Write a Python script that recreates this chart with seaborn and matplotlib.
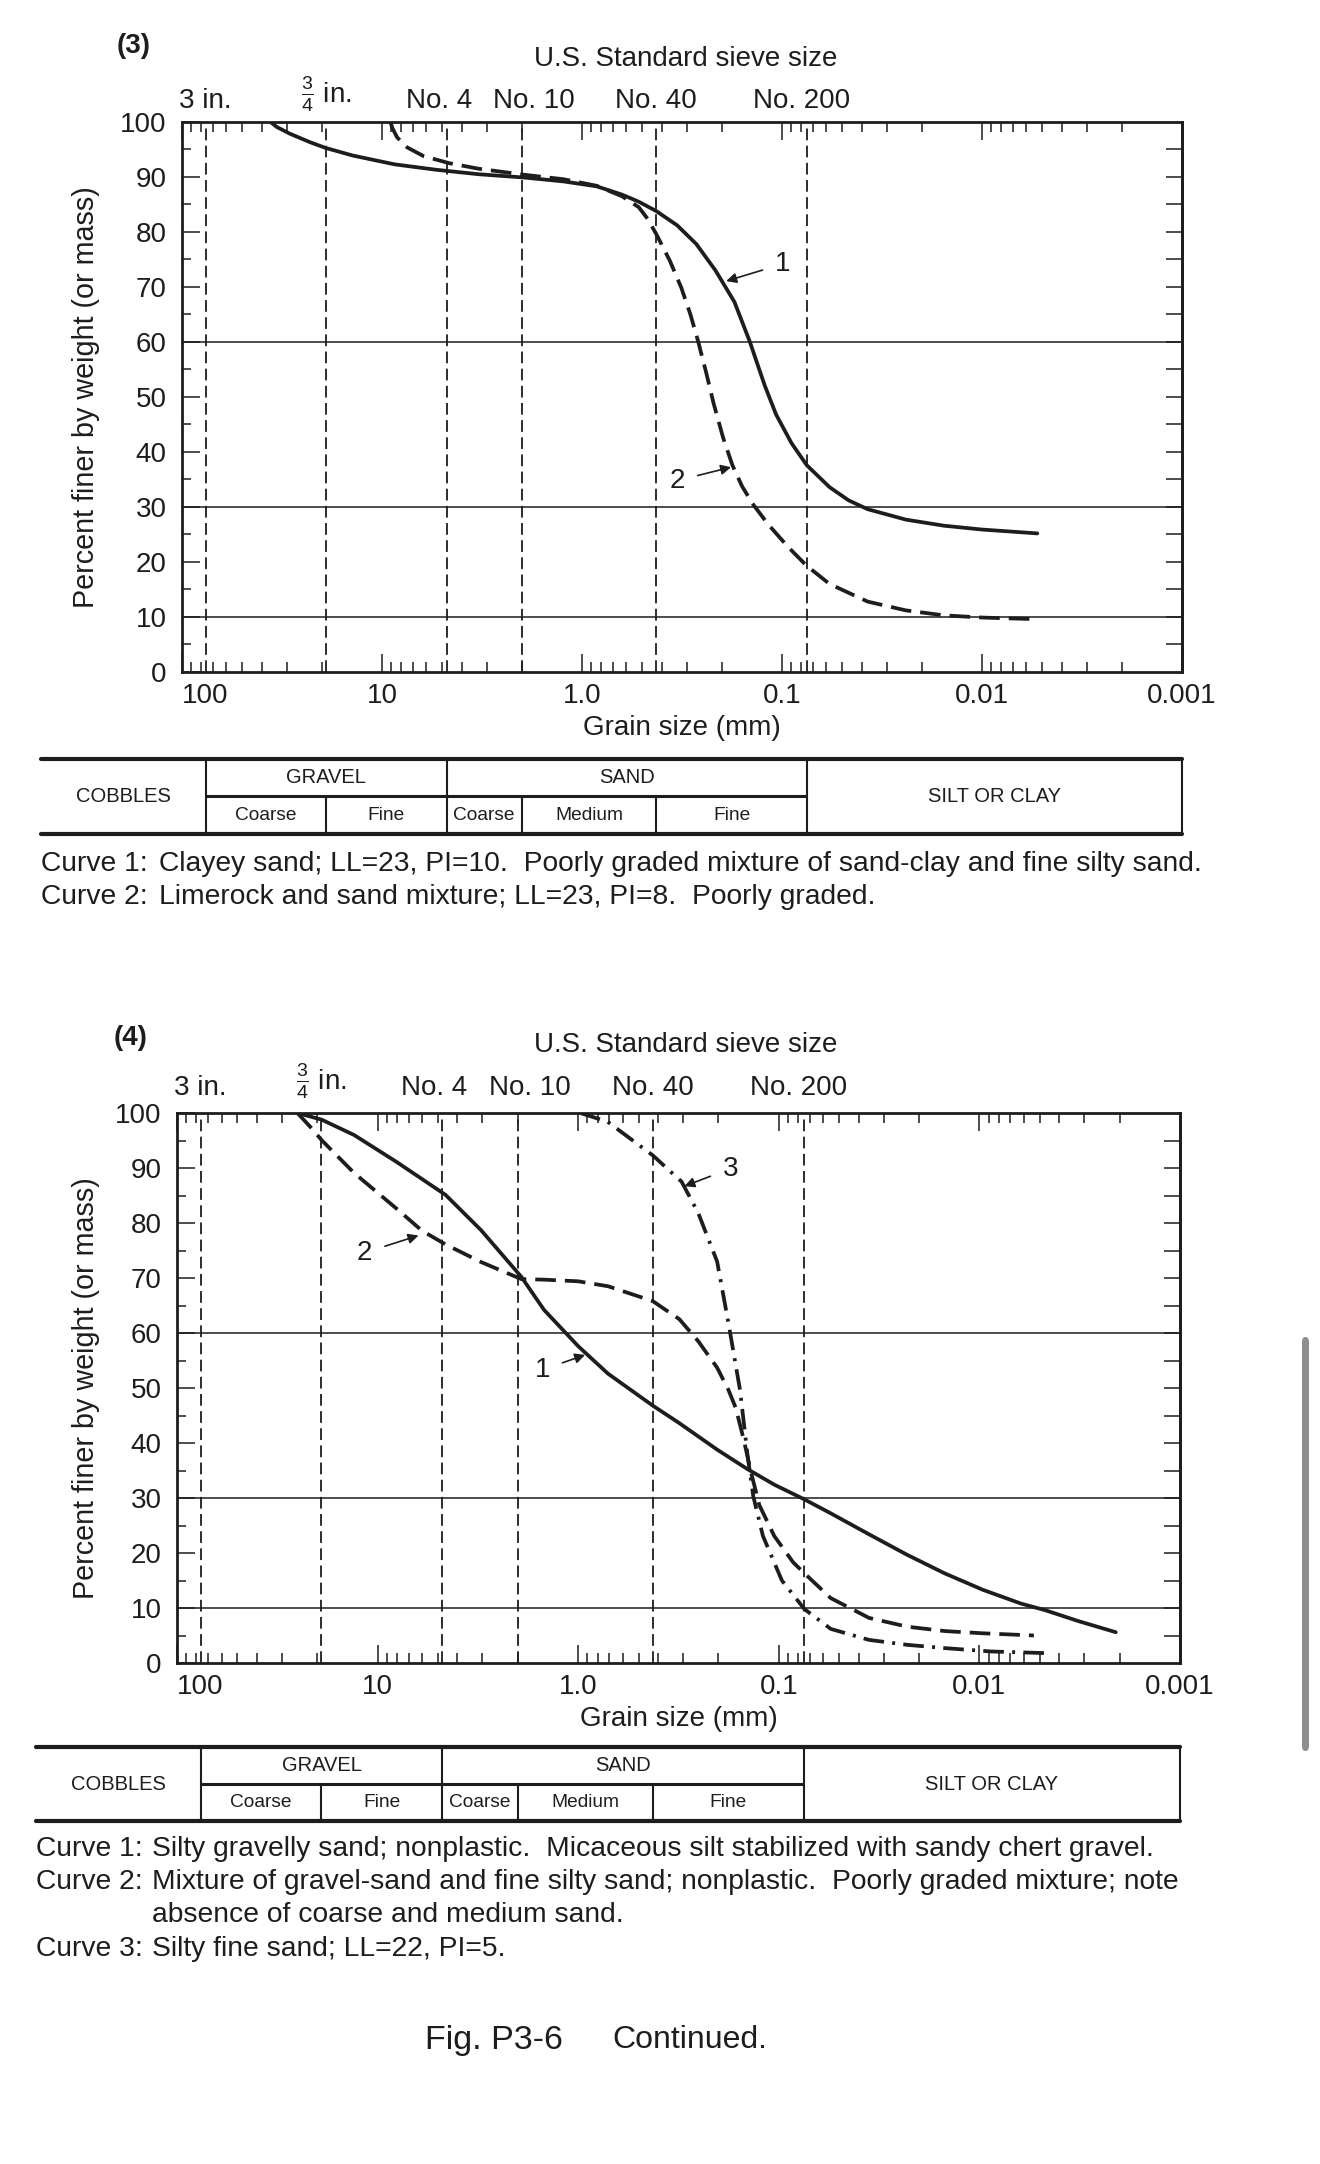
import numpy as np
import matplotlib
matplotlib.use("Agg")
import matplotlib.pyplot as plt
from matplotlib.ticker import FixedLocator, FixedFormatter, LogLocator, NullFormatter
from matplotlib.patches import FancyBboxPatch
import seaborn as sns

# ---------------- data ----------------
# sieve openings (mm) and the names printed above the charts
sieve_mm = [76.2, 19.05, 4.75, 2.0, 0.425, 0.075]
sieve_names = ["3 in.", r"$\frac{3}{4}$ in.", "No. 4", "No. 10", "No. 40", "No. 200"]

x_ticks = [100, 10, 1, 0.1, 0.01, 0.001]
x_ticklabels = ["100", "10", "1.0", "0.1", "0.01", "0.001"]
y_ticks = [0, 10, 20, 30, 40, 50, 60, 70, 80, 90, 100]
grid_pct = [10, 30, 60]

# chart (3)
p3_c1_mm = [36.1, 33.6, 29.0, 22.8, 19.2, 14.0, 8.65, 5.32, 3.28, 1.94, 1.24, 0.844,
            0.631, 0.52, 0.425, 0.334, 0.268, 0.215, 0.173, 0.145, 0.122, 0.107,
            0.0896, 0.0752, 0.0578, 0.0464, 0.0373, 0.0240, 0.0155, 0.0100, 0.00529]
p3_c1_pct = [100, 99.1, 97.9, 96.3, 95.3, 93.9, 92.3, 91.3, 90.5, 89.9, 89.2, 88.3,
             86.8, 85.5, 83.8, 81.2, 77.8, 73.0, 67.3, 60.1, 52.1, 46.8,
             41.6, 37.6, 33.6, 31.2, 29.6, 27.7, 26.6, 25.9, 25.2]
p3_c2_mm = [9.08, 8.85, 8.4, 7.5, 6.2, 4.6, 3.28, 1.94, 1.24, 0.844, 0.631, 0.52, 0.47,
            0.425, 0.364, 0.319, 0.287, 0.263, 0.240, 0.220, 0.197, 0.177, 0.158,
            0.139, 0.117, 0.0936, 0.0752, 0.0578, 0.0373, 0.0240, 0.0155, 0.0100, 0.00529]
p3_c2_pct = [100, 98.8, 97.2, 95.4, 93.8, 92.5, 91.5, 90.4, 89.6, 88.4, 86.5, 84.5, 82.4,
             79.6, 74.8, 69.9, 65.0, 60.2, 54.6, 48.9, 42.6, 37.6, 33.7,
             30.4, 26.8, 22.8, 19.3, 16.0, 12.8, 11.2, 10.3, 9.9, 9.6]

# chart (4)
p4_c1_mm = [25.1, 19.05, 13.1, 8.04, 4.58, 3.05, 1.92, 1.48, 1.0, 0.71, 0.425, 0.313,
            0.203, 0.144, 0.105, 0.075, 0.055, 0.0355, 0.023, 0.0149, 0.0096, 0.0062,
            0.0047, 0.0032, 0.00209]
p4_c1_pct = [100, 98.8, 96.0, 91.1, 85.1, 78.7, 70.2, 64.2, 57.6, 52.6, 46.8, 43.6,
             38.8, 35.3, 32.4, 29.8, 27.2, 23.4, 19.7, 16.3, 13.3, 10.8,
             9.6, 7.6, 5.6]
p4_c2_mm = [25.1, 21.3, 19.05, 13.1, 8.04, 6.01, 4.58, 3.05, 1.92, 1.48, 1.0, 0.71,
            0.425, 0.313, 0.252, 0.203, 0.178, 0.164, 0.150, 0.137, 0.125, 0.1054,
            0.0848, 0.0745, 0.0551, 0.0355, 0.0229, 0.0148, 0.0096, 0.00535]
p4_c2_pct = [100, 97.2, 95.1, 89.1, 82.6, 78.6, 76.1, 72.9, 69.8, 69.7, 69.4, 68.5,
             65.8, 62.5, 58.5, 53.7, 49.6, 46.4, 40.8, 34.4, 28.7, 23.1,
             18.3, 16.3, 11.8, 8.2, 6.6, 5.8, 5.4, 5.0]
p4_c3_mm = [0.976, 0.713, 0.425, 0.305, 0.252, 0.203, 0.178, 0.156, 0.143, 0.134,
            0.120, 0.0965, 0.0745, 0.0551, 0.0355, 0.0229, 0.0148, 0.0088, 0.0047]
p4_c3_pct = [100, 98.4, 92.3, 87.5, 81.8, 73.0, 61.7, 49.6, 37.6, 30.3,
             23.1, 15.0, 9.8, 6.2, 4.2, 3.3, 2.7, 2.1, 1.8]

# curve number callouts: text, text position, arrow tip
p3_lab = ["1", "2"]
p3_lab_mm = [0.099, 0.334]
p3_lab_pct = [74.2, 34.8]
p3_tip_mm = [0.193, 0.177]
p3_tip_pct = [71.0, 37.3]

p4_lab = ["3", "2", "1"]
p4_lab_mm = [0.174, 11.6, 1.51]
p4_lab_pct = [89.9, 74.6, 53.3]
p4_tip_mm = [0.30, 6.16, 0.91]
p4_tip_pct = [86.6, 77.8, 56.1]

class_names = ["COBBLES", "GRAVEL", "SAND", "SILT OR CLAY"]
sub_names = ["Coarse", "Fine", "Coarse", "Medium", "Fine"]

p3_keys = ["Curve 1:", "Curve 2:"]
p3_notes = ["Clayey sand; LL=23, PI=10.  Poorly graded mixture of sand-clay and fine silty sand.",
            "Limerock and sand mixture; LL=23, PI=8.  Poorly graded."]
p4_keys = ["Curve 1:", "Curve 2:", "", "Curve 3:"]
p4_notes = ["Silty gravelly sand; nonplastic.  Micaceous silt stabilized with sandy chert gravel.",
            "Mixture of gravel-sand and fine silty sand; nonplastic.  Poorly graded mixture; note",
            "absence of coarse and medium sand.",
            "Silty fine sand; LL=22, PI=5."]

# ---------------- style / layout ----------------
sns.set_theme(style="white")
plt.rcParams["font.family"] = ["Liberation Sans", "DejaVu Sans"]
plt.rcParams["mathtext.fontset"] = "custom"
plt.rcParams["mathtext.rm"] = "Liberation Sans"
plt.rcParams["mathtext.it"] = "Liberation Sans:italic"
plt.rcParams["mathtext.bf"] = "Liberation Sans:bold"

W, H = 1320, 2164
INK = "#1d1d1d"
FS = 20
NOTE_FS = 20.3
line_styles = ["-", (0, (5.5, 2.4)), (0, (5.5, 2.2, 0.8, 2.2))]
sieve_dx = [0, 0, -8, 12, 0, -5]   # label nudges in pixels
sieve_dy = [0, 7, 0, 0, 0, 0]

fig = plt.figure(figsize=(W / 100, H / 100), dpi=100)
fig.patch.set_facecolor("white")


def frac(l, t, r, b):
    return [l / W, 1 - b / H, (r - l) / W, (b - t) / H]


def ftext(x, y, s, **kw):
    kw.setdefault("color", INK)
    fig.text(x / W, 1 - y / H, s, **kw)


def draw_chart(g, curves, arrows):
    ax = fig.add_axes(frac(g["l"], g["t"], g["r"], g["b"]))
    ax.set_xscale("log")
    for p in grid_pct:
        ax.axhline(p, color=INK, lw=1.1, zorder=1)
    for d in sieve_mm:
        ax.axvline(d, color=INK, lw=1.3, ls=(0, (6.5, 3)), zorder=1)
    for (mm, pct), ls in zip(curves, line_styles):
        sns.lineplot(x=mm, y=pct, ax=ax, color=INK, lw=2.7, linestyle=ls,
                     sort=False, estimator=None, legend=False, zorder=3)
    for s, tx, ty, hx, hy in zip(*arrows):
        ax.annotate(s, xy=(hx, hy), xytext=(tx, ty), fontsize=FS, color=INK,
                    ha="center", va="center",
                    arrowprops=dict(arrowstyle="-|>", color=INK, lw=1.2,
                                    shrinkA=7, shrinkB=1, mutation_scale=15))
    ax.set_xlim(100, 0.001)
    ax.set_ylim(0, 100)

    # x axis: log ticks inside, top and bottom
    ax.xaxis.set_major_locator(FixedLocator(x_ticks))
    ax.xaxis.set_major_formatter(FixedFormatter(x_ticklabels))
    ax.xaxis.set_minor_locator(LogLocator(base=10, subs=np.arange(2, 10), numticks=50))
    ax.xaxis.set_minor_formatter(NullFormatter())
    ax.tick_params(axis="x", which="both", direction="in", top=True, bottom=True,
                   width=1.1, color=INK, labelcolor=INK, labelsize=FS, pad=8)
    ax.tick_params(axis="x", which="major", length=13)
    ax.tick_params(axis="x", which="minor", length=7.5)
    for lbl in ax.get_xticklabels():
        if lbl.get_text() == "100":
            lbl.set_horizontalalignment("left")

    # y axis
    ax.set_yticks(y_ticks)
    ax.yaxis.set_minor_locator(FixedLocator([v + 5 for v in y_ticks[:-1]]))
    ax.tick_params(axis="y", which="both", direction="in", left=True, right=False,
                   width=1.1, color=INK, labelcolor=INK, labelsize=FS, pad=11)
    ax.tick_params(axis="y", which="major", length=13)
    ax.tick_params(axis="y", which="minor", length=6.5)
    sec = ax.secondary_yaxis("right")
    sec.set_yticks([v / 2 for v in range(10, 200, 10)])
    sec.tick_params(direction="in", length=11.5, width=1.1, color=INK, labelright=False)
    sec.spines["right"].set_linewidth(2)
    sec.spines["right"].set_color(INK)

    for sp in ax.spines.values():
        sp.set_linewidth(2)
        sp.set_color(INK)

    ax.set_xlabel("Grain size (mm)", fontsize=FS, color=INK)
    ax.xaxis.set_label_coords(0.5, g["xl"])
    ax.xaxis.label.set_va("center")
    ax.set_ylabel("Percent finer by weight (or mass)", fontsize=20.7, color=INK)
    ax.yaxis.set_label_coords(g["yl"], 0.5)
    ax.yaxis.label.set_va("center")

    for d, name, dx, dy in zip(sieve_mm, sieve_names, sieve_dx, sieve_dy):
        ax.annotate(name, xy=(d, g["sy"]), xycoords=("data", "axes fraction"),
                    xytext=(dx, dy), textcoords="offset pixels", ha="center",
                    va="center", fontsize=FS, color=INK, annotation_clip=False)

    ftext(686, g["title_y"], "U.S. Standard sieve size", fontsize=FS, ha="center", va="center")
    ftext(g["tag_x"], g["tag_y"], g["tag"], fontsize=FS, fontweight="bold",
          ha="center", va="center")
    return ax


def draw_table(g, t):
    dec_px = (g["r"] - g["l"]) / 5
    left_mm = 100 * 10 ** ((g["l"] - t["l"]) / dec_px)
    tx = fig.add_axes(frac(t["l"], t["t"], g["r"], t["b"]))
    tx.set_xscale("log")
    tx.set_xlim(left_mm, 0.001)
    tx.set_ylim(0, 2)
    tx.axis("off")
    main = [sieve_mm[0], sieve_mm[2], sieve_mm[5]]
    sub = [sieve_mm[1], sieve_mm[3], sieve_mm[4]]
    tx.axhline(2, color=INK, lw=3, clip_on=False)
    tx.axhline(0, color=INK, lw=3, clip_on=False)
    tx.hlines(1, main[0], main[-1], color=INK, lw=2.2)
    for d in main + [0.001]:
        tx.axvline(d, color=INK, lw=1.5, clip_on=False)
    tx.vlines(sub, 0, 1, color=INK, lw=1.5)

    spans = [(left_mm, main[0]), (main[0], main[1]), (main[1], main[2]), (main[2], 0.001)]
    levels = [1, 1.5, 1.5, 1]
    for name, (a, b), yv in zip(class_names, spans, levels):
        tx.text(np.sqrt(a * b), yv, name, ha="center", va="center", fontsize=14.5, color=INK)
    edges = sorted(sieve_mm, reverse=True)
    for name, a, b in zip(sub_names, edges[:-1], edges[1:]):
        tx.text(np.sqrt(a * b), 0.5, name, ha="center", va="center", fontsize=13.8, color=INK)


def draw_notes(keys, notes, x0, x1, y0, step):
    for i, (k, s) in enumerate(zip(keys, notes)):
        y = y0 + i * step
        ftext(x0, y, k, fontsize=NOTE_FS, ha="left", va="center")
        ftext(x1, y, s, fontsize=NOTE_FS, ha="left", va="center")


G3 = dict(l=182, r=1182, t=122, b=672, xl=-0.102, yl=-0.096, sy=1.038,
          title_y=59, tag="(3)", tag_x=134, tag_y=46)
G4 = dict(l=177, r=1180, t=1113, b=1663, xl=-0.102, yl=-0.091, sy=1.045,
          title_y=1045, tag="(4)", tag_x=131, tag_y=1038)

draw_chart(G3, [(p3_c1_mm, p3_c1_pct), (p3_c2_mm, p3_c2_pct)],
           (p3_lab, p3_lab_mm, p3_lab_pct, p3_tip_mm, p3_tip_pct))
draw_table(G3, dict(l=41, t=759, b=834))
draw_notes(p3_keys, p3_notes, 41, 159, 864, 33.5)

draw_chart(G4, [(p4_c1_mm, p4_c1_pct), (p4_c2_mm, p4_c2_pct), (p4_c3_mm, p4_c3_pct)],
           (p4_lab, p4_lab_mm, p4_lab_pct, p4_tip_mm, p4_tip_pct))
draw_table(G4, dict(l=36, t=1747, b=1821))
draw_notes(p4_keys, p4_notes, 36, 152, 1849, 33.2)

ftext(425, 2040, "Fig. P3-6", fontsize=24.5, ha="left", va="center")
ftext(612, 2040, "Continued.", fontsize=23, ha="left", va="center")

# scrollbar of the screenshot
fig.patches.append(FancyBboxPatch((1302 / W, 1 - 1751 / H), 7 / W, 414 / H,
                                  boxstyle="round,pad=0,rounding_size=0.0025",
                                  transform=fig.transFigure, facecolor="#8e8e8e",
                                  edgecolor="none"))

fig.savefig("out.png", dpi=100, facecolor="white")
